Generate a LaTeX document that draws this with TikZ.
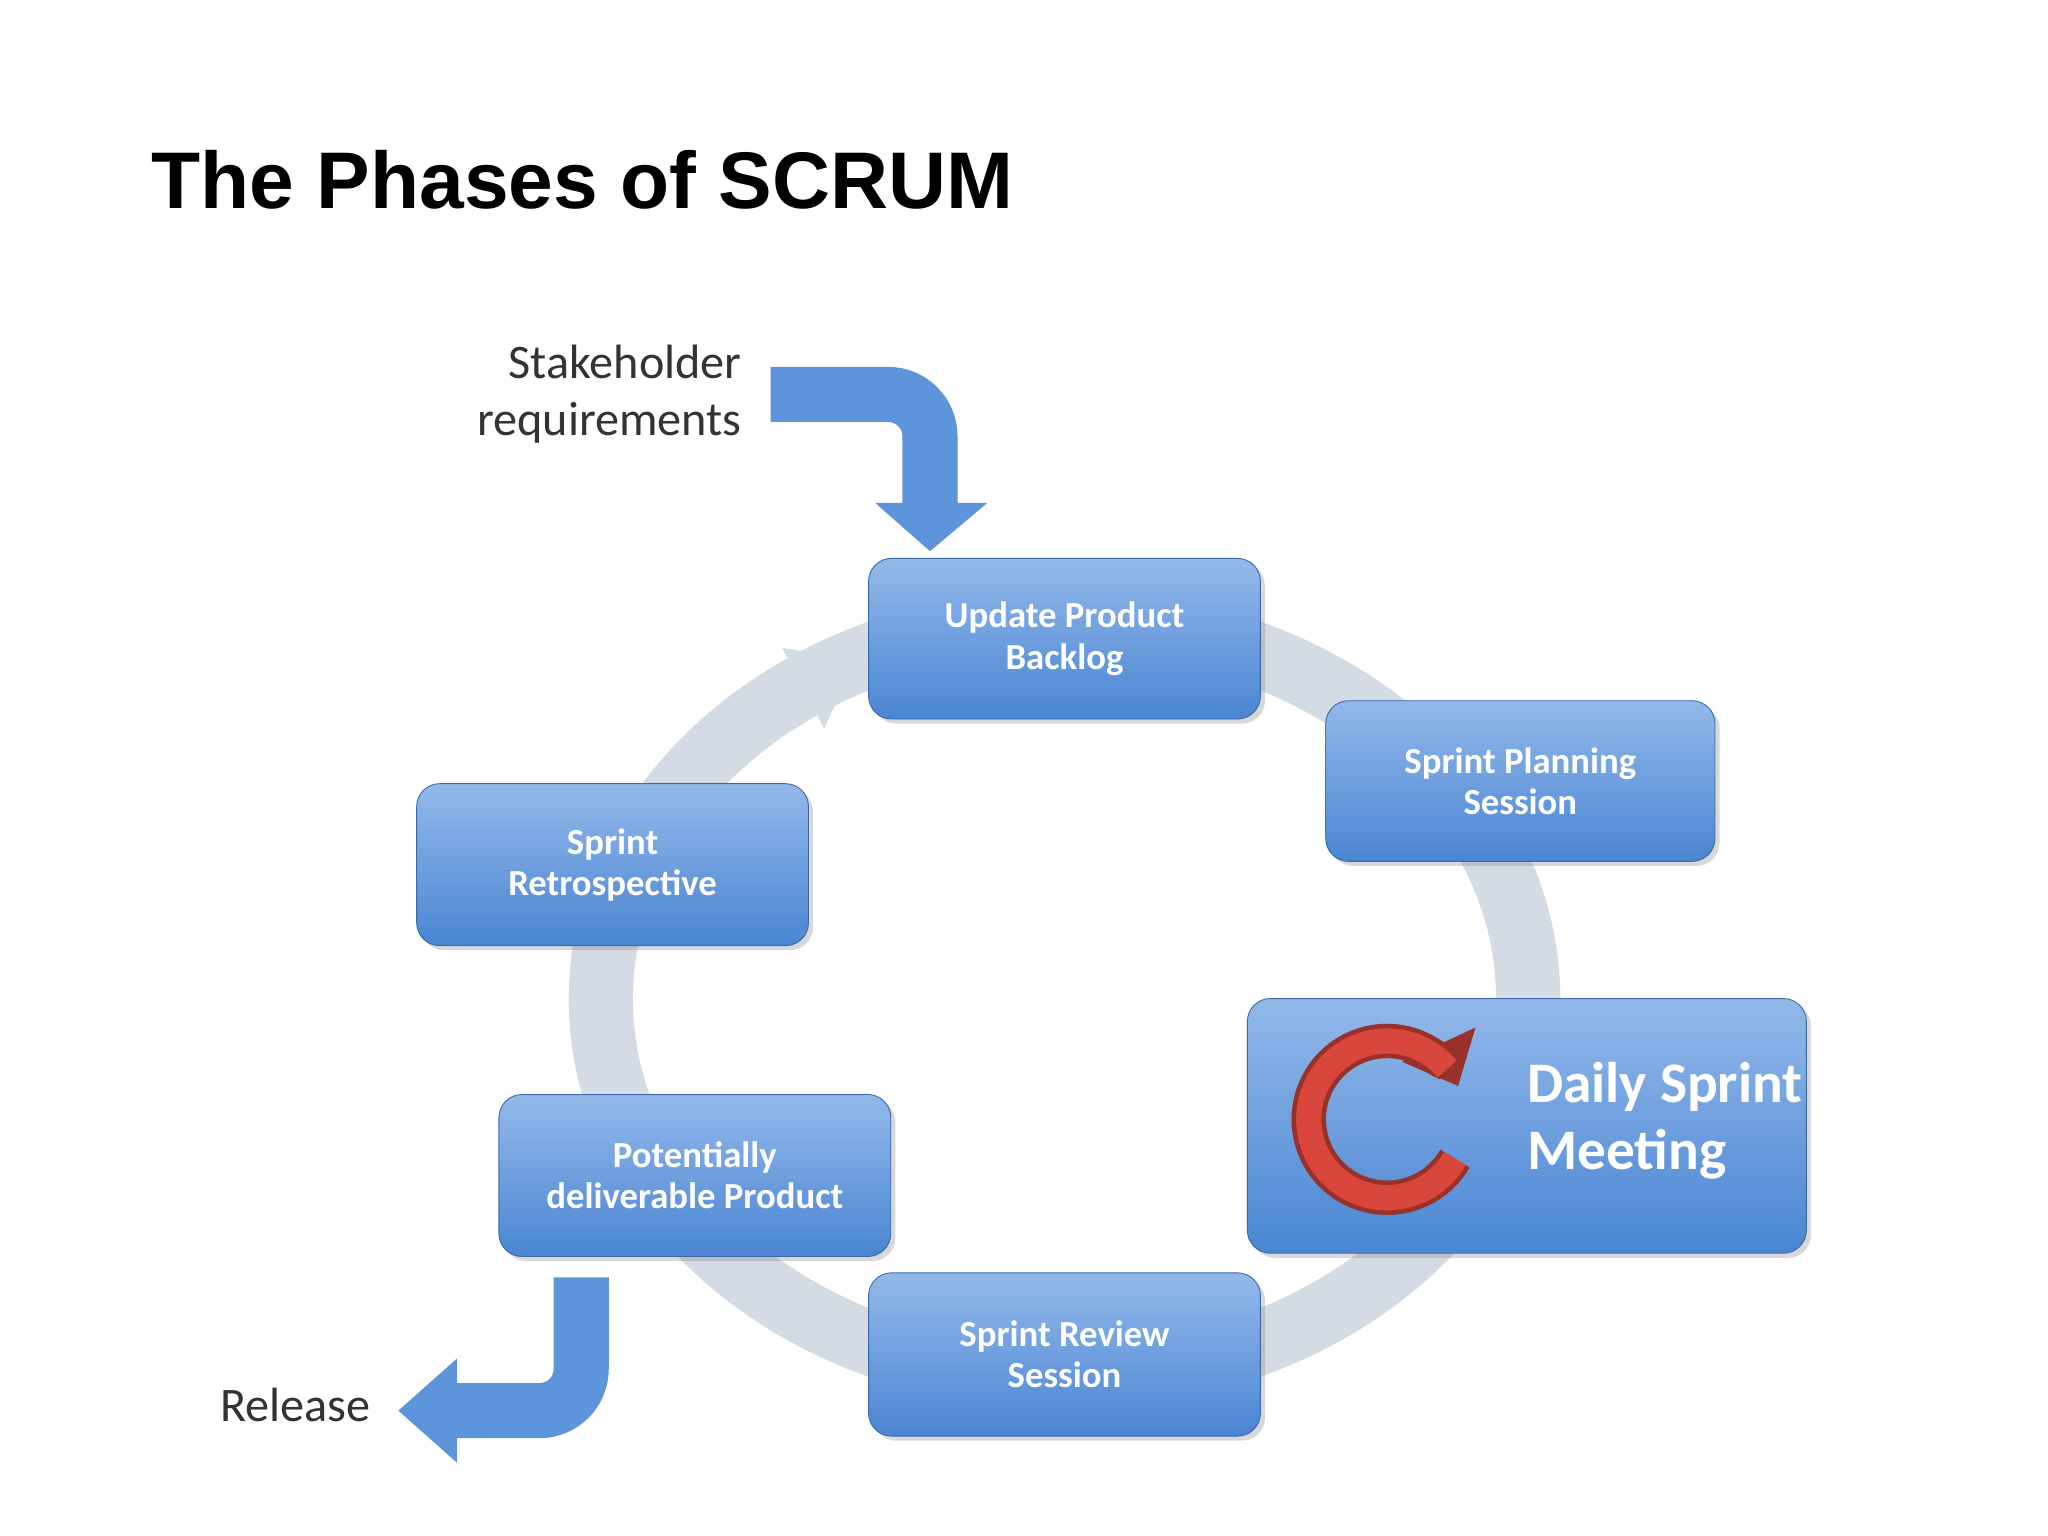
\documentclass[tikz,border=0pt]{standalone}
\usepackage{fontspec}
\setmainfont{Carlito}
\newfontfamily\titlefont{Liberation Sans}
\usetikzlibrary{arrows.meta,shadows}
\definecolor{boxtop}{HTML}{93B9EA}
\definecolor{boxbot}{HTML}{4A85D2}
\definecolor{ringcol}{HTML}{D5DBE5}
\definecolor{arrcol}{HTML}{5D95DB}
\definecolor{redarr}{HTML}{D9463C}
\definecolor{txtgray}{HTML}{333333}
\tikzset{
  phasebox/.style={rounded corners=10pt, top color=boxtop, bottom color=boxbot,
    draw=boxbot!80!black, line width=0.4pt, text=white, font=\bfseries\fontsize{16}{18}\selectfont,
    align=center, inner sep=0pt, drop shadow={shadow xshift=2pt,shadow yshift=-2pt,opacity=0.3}},
  bigarrow/.style={arrcol, line width=24pt},
  lbl/.style={text=txtgray, font=\fontsize{21}{25}\selectfont, align=right}
}
\begin{document}
\begin{tikzpicture}[x=0.02cm,y=-0.02cm]
\useasboundingbox (0,0) rectangle (1568,1176);
\fill[white] (0,0) rectangle (1568,1176);
\node[anchor=west, font=\titlefont\bfseries\fontsize{35}{40}\selectfont] (title) at (110,138) {The Phases of SCRUM};
% ring
\draw[ringcol, line width=28pt] (815,765) ellipse [x radius=355, y radius=290];
\fill[ringcol] (599,496) -- (655,505) -- (631,558) -- cycle;
% stakeholder arrow
\node[lbl, anchor=east] (stake) at (574,302) {Stakeholder\\requirements};
\coordinate (s0) at (590,302);
\coordinate (s1) at (712,390);
\draw[bigarrow] (s0) -- (680,302) arc[start angle=-90,end angle=0,radius=32] -- (s1);
\fill[arrcol] (670,385) -- (756,385) -- (712,422) -- cycle;
% boxes
\node[phasebox, minimum width=300*0.02cm, minimum height=123*0.02cm] (upb) at (815,489) {Update Product\\Backlog};
\node[phasebox, minimum width=298*0.02cm, minimum height=123*0.02cm] (sps) at (1164,598) {Sprint Planning\\Session};
\node[phasebox, minimum width=428*0.02cm, minimum height=195*0.02cm] (dsm) at (1169,862) {};
\node[anchor=west, text=white, font=\bfseries\fontsize{25}{29}\selectfont, align=left] (dsmt) at (1163,858) {Daily Sprint\\Meeting};
\node[phasebox, minimum width=300*0.02cm, minimum height=125*0.02cm] (srs) at (815,1037) {Sprint Review\\Session};
\node[phasebox, minimum width=300*0.02cm, minimum height=124*0.02cm] (pdp) at (532,900) {Potentially\\deliverable Product};
\node[phasebox, minimum width=300*0.02cm, minimum height=124*0.02cm] (sr) at (469,662) {Sprint\\Retrospective};
% red cycle arrow
\coordinate (rc) at (1062,857);
\draw[redarr!70!black, line width=15pt, -{Triangle[width=34pt,length=20pt]}] (rc) ++(30:60) arc[start angle=30,end angle=335,radius=60];
\draw[redarr, line width=11pt] (rc) ++(30:60) arc[start angle=30,end angle=320,radius=60];
% release arrow
\node[lbl, anchor=east] (rel) at (290,1076) {Release};
\coordinate (r0) at (445,978);
\coordinate (r1) at (345,1080);
\draw[bigarrow] (r0) -- (445,1048) arc[start angle=0,end angle=90,radius=32] -- (r1);
\fill[arrcol] (350,1040) -- (350,1120) -- (305,1080) -- cycle;
\end{tikzpicture}
\end{document}
